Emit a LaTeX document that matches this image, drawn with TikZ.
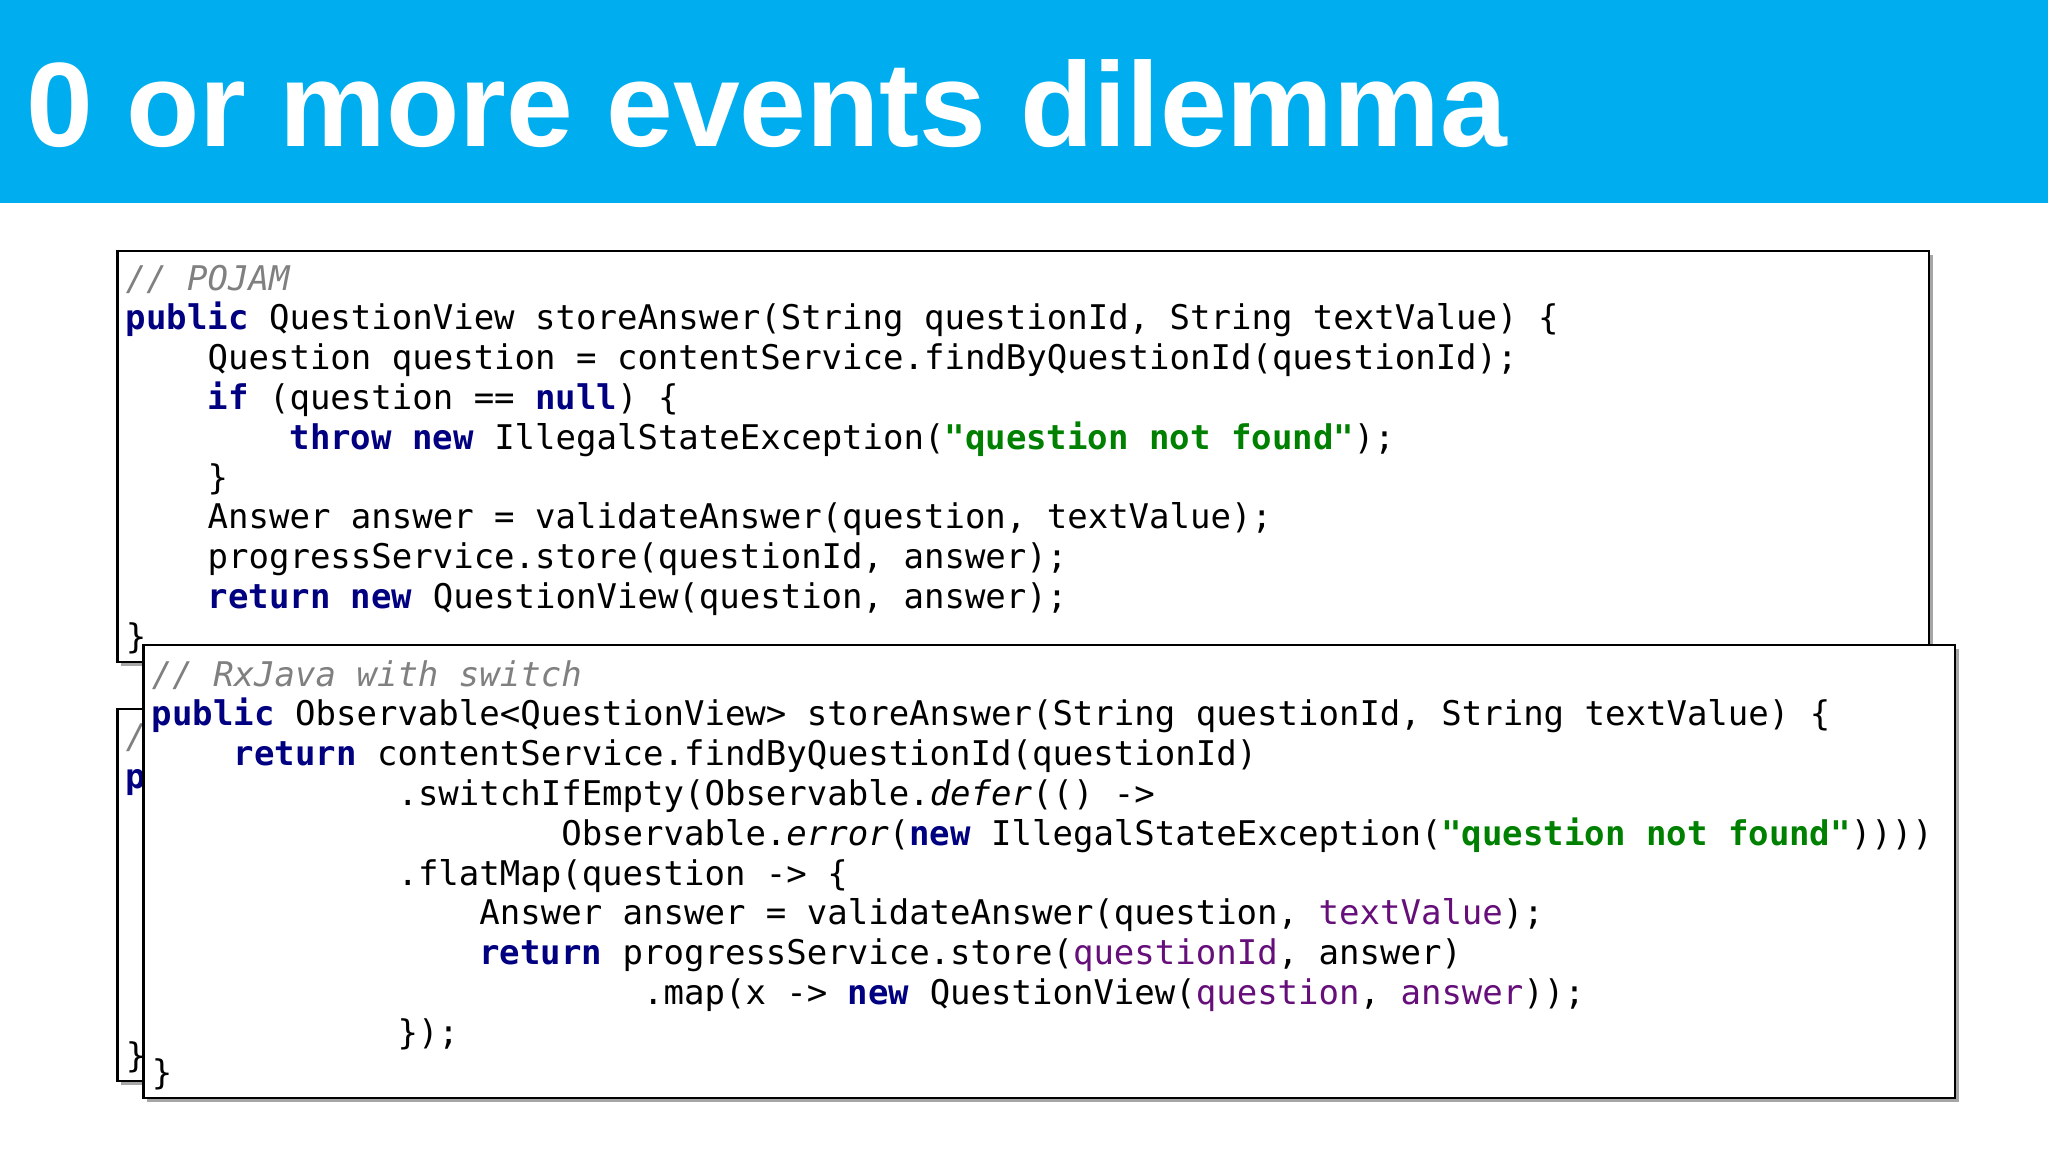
\documentclass[tikz,border=0pt]{standalone}
\usepackage{fontspec}
\setmainfont{Liberation Sans}
\setmonofont{DejaVu Sans Mono}
\definecolor{hdr}{RGB}{0,174,239}
\definecolor{kw}{RGB}{0,0,128}
\definecolor{str}{RGB}{0,128,0}
\definecolor{cmt}{RGB}{128,128,128}
\definecolor{pur}{RGB}{102,14,122}
\newcommand{\K}[1]{\textcolor{kw}{\bfseries #1}}
\newcommand{\St}[1]{\textcolor{str}{\bfseries #1}}
\newcommand{\Cm}[1]{\textcolor{cmt}{\itshape #1}}
\newcommand{\Pu}[1]{\textcolor{pur}{#1}}
\tikzset{
  codebox/.style={draw=black, line width=1.3pt, fill=white},
  shadowbox/.style={fill=black!35},
  cl/.style={anchor=base west, inner sep=0pt, font=\ttfamily\fontsize{17pt}{20pt}\selectfont},
}
\begin{document}
\begin{tikzpicture}[x=0.5pt,y=-0.5pt]
\useasboundingbox (0,0) rectangle (2048,1152);
\fill[white] (0,0) rectangle (2048,1152);
\fill[hdr] (0,0) rectangle (2048,203);
\node[anchor=base west, inner sep=0pt, text=white, font=\bfseries\fontsize{60pt}{70pt}\selectfont] (title) at (26,146) {0 or more events dilemma};
% box 1
\fill[shadowbox] (121,255) rectangle (1933,666);
\draw[codebox] (117.6,250.8) rectangle (1929,662);
\def\bx{125.4}\def\cw{20.47}\def\by{290}\def\ls{39.8}
\node[cl] (a1) at (\bx,\by) {\Cm{// POJAM}};
\node[cl] (a2) at (\bx,\by+\ls) {\K{public} QuestionView storeAnswer(String questionId, String textValue) \{};
\node[cl] (a3) at (\bx+4*\cw,\by+2*\ls) {Question question = contentService.findByQuestionId(questionId);};
\node[cl] (a4) at (\bx+4*\cw,\by+3*\ls) {\K{if} (question == \K{null}) \{};
\node[cl] (a5) at (\bx+8*\cw,\by+4*\ls) {\K{throw} \K{new} IllegalStateException(\St{"question not found"});};
\node[cl] (a6) at (\bx+4*\cw,\by+5*\ls) {\}};
\node[cl] (a7) at (\bx+4*\cw,\by+6*\ls) {Answer answer = validateAnswer(question, textValue);};
\node[cl] (a8) at (\bx+4*\cw,\by+7*\ls) {progressService.store(questionId, answer);};
\node[cl] (a9) at (\bx+4*\cw,\by+8*\ls) {\K{return} \K{new} QuestionView(question, answer);};
\node[cl] (a10) at (\bx,\by+9*\ls) {\}};
% back box
\fill[shadowbox] (121,713) rectangle (160,1085);
\draw[codebox] (117.6,709) rectangle (156,1081);
\node[cl] (c1) at (\bx,748) {\Cm{//}};
\node[cl] (c2) at (\bx,788) {\K{public}};
\node[cl] (c3) at (\bx,1067) {\}};
% box 2
\fill[shadowbox] (147,649) rectangle (1959,1102);
\draw[codebox] (143.7,645) rectangle (1955,1098);
\def\bx{151.5}\def\by{686}
\node[cl] (b1) at (\bx,\by) {\Cm{// RxJava with switch}};
\node[cl] (b2) at (\bx,\by+\ls) {\K{public} Observable<QuestionView> storeAnswer(String questionId, String textValue) \{};
\node[cl] (b3) at (\bx+4*\cw,\by+2*\ls) {\K{return} contentService.findByQuestionId(questionId)};
\node[cl] (b4) at (\bx+12*\cw,\by+3*\ls) {.switchIfEmpty(Observable.\textit{defer}(() ->};
\node[cl] (b5) at (\bx+20*\cw,\by+4*\ls) {Observable.\textit{error}(\K{new} IllegalStateException(\St{"question not found"}))))};
\node[cl] (b6) at (\bx+12*\cw,\by+5*\ls) {.flatMap(question -> \{};
\node[cl] (b7) at (\bx+16*\cw,\by+6*\ls) {Answer answer = validateAnswer(question, \Pu{textValue});};
\node[cl] (b8) at (\bx+16*\cw,\by+7*\ls) {\K{return} progressService.store(\Pu{questionId}, answer)};
\node[cl] (b9) at (\bx+24*\cw,\by+8*\ls) {.map(x -> \K{new} QuestionView(\Pu{question}, \Pu{answer}));};
\node[cl] (b10) at (\bx+12*\cw,\by+9*\ls) {\});};
\node[cl] (b11) at (\bx,\by+10*\ls) {\}};
\end{tikzpicture}
\end{document}
